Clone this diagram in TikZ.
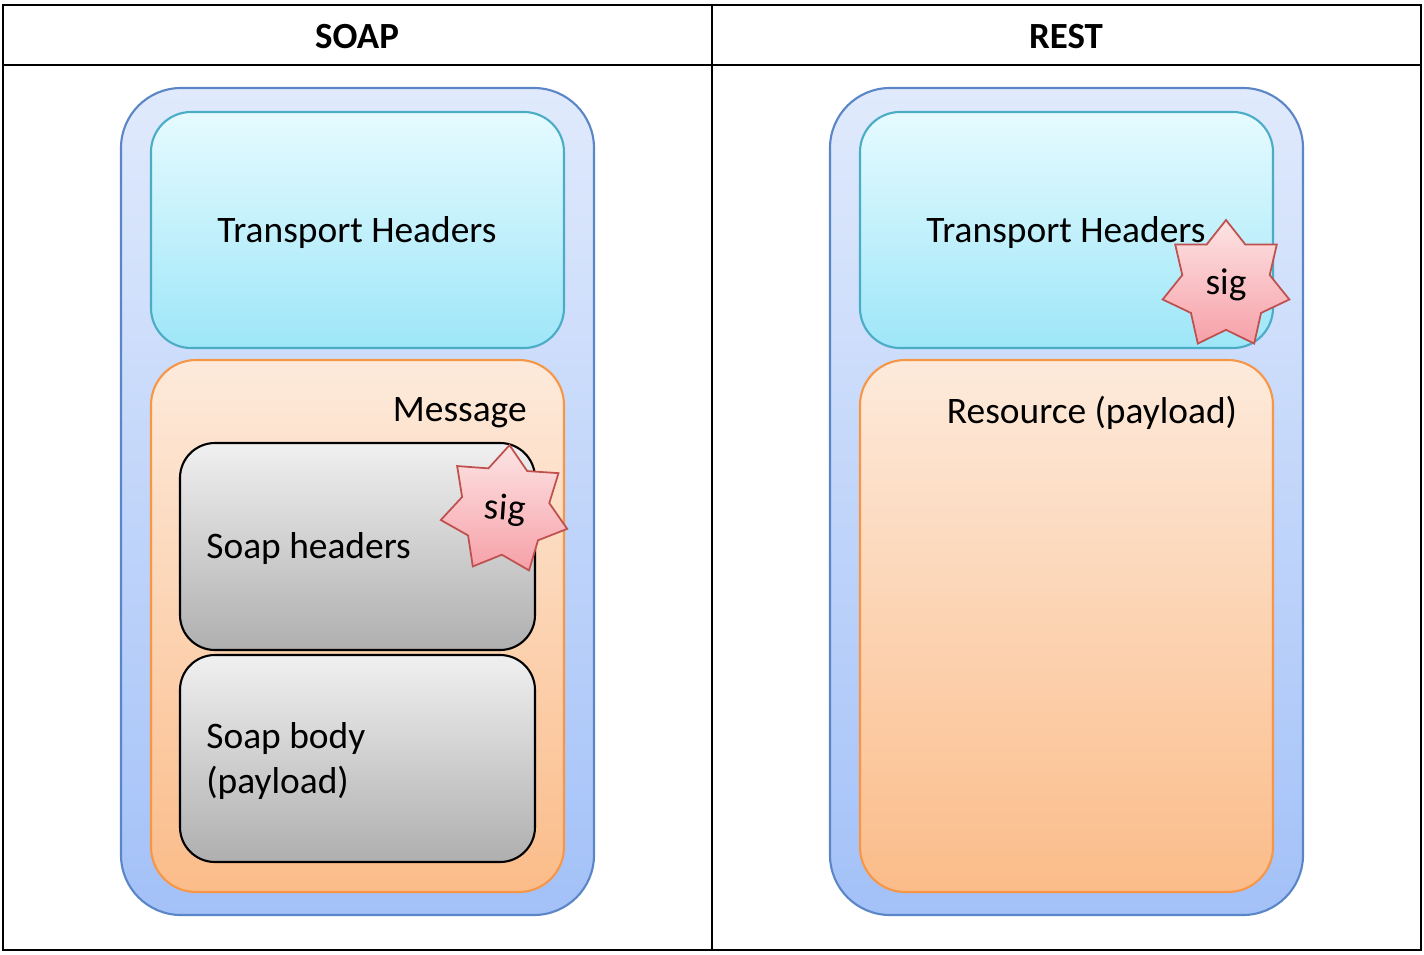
\documentclass[tikz,border=0pt]{standalone}
\usepackage{fontspec}
\setmainfont{Carlito}
\usetikzlibrary{shapes.geometric}
\definecolor{bluetop}{HTML}{E0EAFC}\definecolor{bluebot}{HTML}{A3C1F8}\definecolor{blueline}{HTML}{5A86C8}
\definecolor{cytop}{HTML}{E6FBFF}\definecolor{cybot}{HTML}{9EE6F8}\definecolor{cyline}{HTML}{4BACC6}
\definecolor{ortop}{HTML}{FDEADB}\definecolor{orbot}{HTML}{FBBC89}\definecolor{orline}{HTML}{F79646}
\definecolor{grtop}{HTML}{F0F0F0}\definecolor{grbot}{HTML}{AFAFAF}
\definecolor{sgtop}{HTML}{FDE4E4}\definecolor{sgbot}{HTML}{F6A0A8}\definecolor{sgline}{HTML}{C0504D}
\tikzset{
 outerbox/.style={draw=blueline,line width=1.2pt,rounded corners=1.2cm,top color=bluetop,bottom color=bluebot},
 cybox/.style={draw=cyline,line width=1.2pt,rounded corners=0.8cm,top color=cytop,bottom color=cybot},
 orbox/.style={draw=orline,line width=1.2pt,rounded corners=0.9cm,top color=ortop,bottom color=orbot},
 grbox/.style={draw=black,line width=1.2pt,rounded corners=0.7cm,top color=grtop,bottom color=grbot},
 sigstar/.style={star,star points=7,star point ratio=1.45,minimum size=2.6cm,inner sep=0pt,draw=sgline,line width=1pt,top color=sgtop,bottom color=sgbot,font=\fontsize{21.3}{25}\selectfont},
 lbl/.style={font=\fontsize{21.3}{26}\selectfont,inner sep=0pt},
 hdr/.style={font=\bfseries\fontsize{21}{24}\selectfont,inner sep=0pt},
 frame/.style={draw=black,line width=1.6pt}
}
\begin{document}
\begin{tikzpicture}[x=0.02cm,y=-0.02cm]
\useasboundingbox (0,0) rectangle (1424,954);
\fill[white] (0,0) rectangle (1424,954);
\draw[frame] (3,5) rectangle (1421,950);
\draw[frame] (3,65) -- (1421,65);
\draw[frame] (712,5) -- (712,950);
\node[hdr] (hs) at (357,37) {SOAP};
\node[hdr] (hr) at (1066,37) {REST};
% SOAP
\draw[outerbox] (121,88) rectangle (594,915);
\draw[cybox] (151,112) rectangle (564,348);
\node[lbl] (th1) at (357,233) {Transport Headers};
\draw[orbox] (151,360) rectangle (564,892);
\node[lbl,anchor=east] (msg) at (527,413) {Message};
\draw[grbox] (180,443) rectangle (535,650);
\node[lbl,anchor=west] (sh) at (206,549) {Soap headers};
\draw[grbox] (180,655) rectangle (535,862);
\node[lbl,anchor=west,align=left] (sb) at (206,761) {Soap body\\(payload)};
\node[sigstar,rotate=-4] (s1) at (505,510) {sig};
% REST
\draw[outerbox] (830,88) rectangle (1303,915);
\draw[cybox] (860,112) rectangle (1273,348);
\node[lbl] (th2) at (1066,233) {Transport Headers};
\draw[orbox] (860,360) rectangle (1273,892);
\node[lbl] (res) at (1092,413) {Resource (payload)};
\node[sigstar] (s2) at (1226,285) {sig};
\end{tikzpicture}
\end{document}
